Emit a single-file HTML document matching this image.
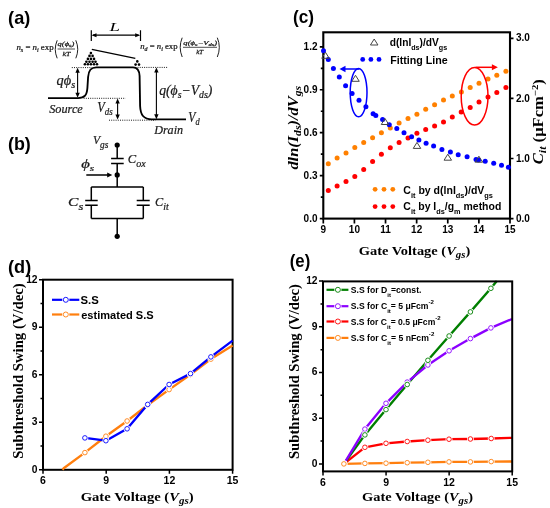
<!DOCTYPE html>
<html><head><meta charset="utf-8"><style>
html,body{margin:0;padding:0;background:#fff;width:550px;height:508px;overflow:hidden}
svg{display:block;will-change:transform}
</style></head><body>
<svg width="550" height="508" viewBox="0 0 550 508">
<rect width="550" height="508" fill="#fff"/>
<g id="t_la" transform="translate(8.09,24) scale(1.008,1)"><text x="0" y="0" font-family='"Liberation Sans", sans-serif' font-size="18" font-weight="bold" font-style="normal" fill="#000">(a)</text></g>
<g id="t_lb" transform="translate(8.007,150) scale(0.993,1)"><text x="0" y="0" font-family='"Liberation Sans", sans-serif' font-size="18" font-weight="bold" font-style="normal" fill="#000">(b)</text></g>
<g id="t_lc" transform="translate(292.894,23.2) scale(0.958,1)"><text x="0" y="0" font-family='"Liberation Sans", sans-serif' font-size="18" font-weight="bold" font-style="normal" fill="#000">(c)</text></g>
<g id="t_ld" transform="translate(8.086,272.6) scale(1.007,1)"><text x="0" y="0" font-family='"Liberation Sans", sans-serif' font-size="18" font-weight="bold" font-style="normal" fill="#000">(d)</text></g>
<g id="t_le" transform="translate(289.738,267.2) scale(0.931,1)"><text x="0" y="0" font-family='"Liberation Sans", sans-serif' font-size="18" font-weight="bold" font-style="normal" fill="#000">(e)</text></g>
<path d="M323.3,218.6V223.6 M354.417,218.6V223.6 M385.533,218.6V223.6 M416.65,218.6V223.6 M447.767,218.6V223.6 M478.883,218.6V223.6 M510,218.6V223.6 M323.3,218.6H319.8 M323.3,197.125H320.8 M323.3,175.65H319.8 M323.3,154.175H320.8 M323.3,132.7H319.8 M323.3,111.225H320.8 M323.3,89.75H319.8 M323.3,68.275H320.8 M323.3,46.8H319.8 M510,218.6H513.5 M510,158.5H513.5 M510,98.4H513.5 M510,38.3H513.5" stroke="#000" stroke-width="1.7" fill="none"/>
<rect x="323.3" y="32.3" width="186.7" height="186.3" fill="none" stroke="#000" stroke-width="2.1"/>
<text x="323.3" y="233.1" font-family='"Liberation Sans", sans-serif' font-size="10" font-weight="bold" font-style="normal" fill="#000" text-anchor="middle">9</text>
<text x="354.417" y="233.1" font-family='"Liberation Sans", sans-serif' font-size="10" font-weight="bold" font-style="normal" fill="#000" text-anchor="middle">10</text>
<text x="385.533" y="233.1" font-family='"Liberation Sans", sans-serif' font-size="10" font-weight="bold" font-style="normal" fill="#000" text-anchor="middle">11</text>
<text x="416.65" y="233.1" font-family='"Liberation Sans", sans-serif' font-size="10" font-weight="bold" font-style="normal" fill="#000" text-anchor="middle">12</text>
<text x="447.767" y="233.1" font-family='"Liberation Sans", sans-serif' font-size="10" font-weight="bold" font-style="normal" fill="#000" text-anchor="middle">13</text>
<text x="478.883" y="233.1" font-family='"Liberation Sans", sans-serif' font-size="10" font-weight="bold" font-style="normal" fill="#000" text-anchor="middle">14</text>
<text x="510" y="233.1" font-family='"Liberation Sans", sans-serif' font-size="10" font-weight="bold" font-style="normal" fill="#000" text-anchor="middle">15</text>
<text x="317.5" y="222.2" font-family='"Liberation Sans", sans-serif' font-size="10" font-weight="bold" font-style="normal" fill="#000" text-anchor="end">0.0</text>
<text x="317.5" y="179.25" font-family='"Liberation Sans", sans-serif' font-size="10" font-weight="bold" font-style="normal" fill="#000" text-anchor="end">0.3</text>
<text x="317.5" y="136.3" font-family='"Liberation Sans", sans-serif' font-size="10" font-weight="bold" font-style="normal" fill="#000" text-anchor="end">0.6</text>
<text x="317.5" y="93.35" font-family='"Liberation Sans", sans-serif' font-size="10" font-weight="bold" font-style="normal" fill="#000" text-anchor="end">0.9</text>
<text x="317.5" y="50.4" font-family='"Liberation Sans", sans-serif' font-size="10" font-weight="bold" font-style="normal" fill="#000" text-anchor="end">1.2</text>
<text x="516" y="221.7" font-family='"Liberation Sans", sans-serif' font-size="10" font-weight="bold" font-style="normal" fill="#000" text-anchor="start">0.0</text>
<text x="516" y="161.6" font-family='"Liberation Sans", sans-serif' font-size="10" font-weight="bold" font-style="normal" fill="#000" text-anchor="start">1.0</text>
<text x="516" y="101.5" font-family='"Liberation Sans", sans-serif' font-size="10" font-weight="bold" font-style="normal" fill="#000" text-anchor="start">2.0</text>
<text x="516" y="41.4" font-family='"Liberation Sans", sans-serif' font-size="10" font-weight="bold" font-style="normal" fill="#000" text-anchor="start">3.0</text>
<g id="t_cgv" transform="translate(358.7,255.2) scale(1.088,1)"><text x="0" y="0" font-family='"Liberation Serif", serif' font-size="13.3" font-weight="bold" font-style="normal" fill="#000">Gate Voltage (<tspan font-style="italic">V</tspan><tspan font-style="italic" font-size="10" dy="3">gs</tspan><tspan dy="-3">)</tspan></text></g>
<g id="t_cyl" transform="translate(298.3,169.5) rotate(-90) translate(-0.116,0) scale(1.172,1)"><text x="0" y="0" font-family='"Liberation Serif", serif' font-size="14" font-weight="bold" font-style="italic" fill="#000">dln(I<tspan font-size="10" dy="3">ds</tspan><tspan dy="-3">)/dV</tspan><tspan font-size="10" dy="3">gs</tspan></text></g>
<g id="t_cyr" transform="translate(543.4,164) rotate(-90) translate(-0.198,0) scale(1.186,1)"><text x="0" y="0" font-family='"Liberation Serif", serif' font-size="14" font-weight="bold" font-style="normal" fill="#000"><tspan font-style="italic">C</tspan><tspan font-style="italic" font-size="10" dy="3">it</tspan><tspan dy="-3"> (μFcm</tspan><tspan font-size="9" dy="-5">−2</tspan><tspan dy="5">)</tspan></text></g>
<g fill="#FF8000"><circle cx="328.3" cy="163.8" r="2.5"/><circle cx="337.1" cy="158" r="2.5"/><circle cx="346" cy="152.9" r="2.5"/><circle cx="354.8" cy="147.6" r="2.5"/><circle cx="363.7" cy="142.6" r="2.5"/><circle cx="372.6" cy="137.7" r="2.5"/><circle cx="381.4" cy="132.8" r="2.5"/><circle cx="390.3" cy="127.9" r="2.5"/><circle cx="399.1" cy="123" r="2.5"/><circle cx="408" cy="118.5" r="2.5"/><circle cx="416.9" cy="114.3" r="2.5"/><circle cx="425.7" cy="109.3" r="2.5"/><circle cx="434.6" cy="104.8" r="2.5"/><circle cx="443.5" cy="99.9" r="2.5"/><circle cx="452.3" cy="96" r="2.5"/><circle cx="461.4" cy="92" r="2.5"/><circle cx="470.2" cy="87.6" r="2.5"/><circle cx="479" cy="83.2" r="2.5"/><circle cx="488" cy="79.1" r="2.5"/><circle cx="496.8" cy="75.3" r="2.5"/><circle cx="505.9" cy="71.3" r="2.5"/></g>
<g fill="#FF0000"><circle cx="328.3" cy="190.6" r="2.5"/><circle cx="337.1" cy="186" r="2.5"/><circle cx="346" cy="181.4" r="2.5"/><circle cx="354.8" cy="176.6" r="2.5"/><circle cx="363.7" cy="169.5" r="2.5"/><circle cx="372.6" cy="161.6" r="2.5"/><circle cx="381.4" cy="154.2" r="2.5"/><circle cx="390.3" cy="147.8" r="2.5"/><circle cx="399.1" cy="142.6" r="2.5"/><circle cx="408" cy="137.9" r="2.5"/><circle cx="416.9" cy="133.2" r="2.5"/><circle cx="425.7" cy="129.4" r="2.5"/><circle cx="434.6" cy="125.9" r="2.5"/><circle cx="443.5" cy="121.9" r="2.5"/><circle cx="452.3" cy="117" r="2.5"/><circle cx="461.2" cy="111.9" r="2.5"/><circle cx="470.2" cy="107.5" r="2.5"/><circle cx="479" cy="102" r="2.5"/><circle cx="488" cy="96.9" r="2.5"/><circle cx="496.8" cy="92.5" r="2.5"/><circle cx="505.9" cy="87.6" r="2.5"/></g>
<g fill="#0000FF"><circle cx="323.5" cy="50.7" r="2.5"/><circle cx="328.3" cy="59.5" r="2.5"/><circle cx="333.4" cy="68.4" r="2.5"/><circle cx="339.3" cy="76.9" r="2.5"/><circle cx="345.6" cy="85.7" r="2.5"/><circle cx="352.1" cy="93.4" r="2.5"/><circle cx="359" cy="100.3" r="2.5"/><circle cx="365.9" cy="106.8" r="2.5"/><circle cx="373.1" cy="113.7" r="2.5"/><circle cx="375.8" cy="115.6" r="2.5"/><circle cx="382.6" cy="119.6" r="2.5"/><circle cx="389.3" cy="124.7" r="2.5"/><circle cx="396.8" cy="128.6" r="2.5"/><circle cx="404" cy="132.8" r="2.5"/><circle cx="411.6" cy="136.7" r="2.5"/><circle cx="418.9" cy="140.1" r="2.5"/><circle cx="426.1" cy="143.2" r="2.5"/><circle cx="433.6" cy="146" r="2.5"/><circle cx="441.9" cy="149.5" r="2.5"/><circle cx="450.4" cy="151.9" r="2.5"/><circle cx="458.2" cy="154.8" r="2.5"/><circle cx="467.1" cy="156.8" r="2.5"/><circle cx="476" cy="159.4" r="2.5"/><circle cx="478.5" cy="159.9" r="2.5"/><circle cx="485.2" cy="161.3" r="2.5"/><circle cx="493.7" cy="163.3" r="2.5"/><circle cx="501.5" cy="165.3" r="2.5"/><circle cx="508.4" cy="167.2" r="2.5"/></g>
<path d="M325.5,52.3L329.25,58.3L321.75,58.3ZM355.5,75.3L359.25,81.3L351.75,81.3ZM385,118.5L388.75,124.5L381.25,124.5ZM417,142.4L420.75,148.4L413.25,148.4ZM447.8,154.2L451.55,160.2L444.05,160.2ZM478.9,156.2L482.65,162.2L475.15,162.2ZM374.2,39L377.95,45L370.45,45Z" fill="none" stroke="#444" stroke-width="1"/>
<ellipse cx="358.6" cy="92.6" rx="8.4" ry="24.2" fill="none" stroke="#0000FF" stroke-width="1.5"/>
<path d="M359.3,69H344" stroke="#0000FF" stroke-width="1.5"/><path d="M339.5,69L345.5,65.8L345.5,72.2Z" fill="#0000FF"/>
<ellipse cx="474.6" cy="96.3" rx="13.4" ry="28.8" fill="none" stroke="#FF0000" stroke-width="1.5"/>
<path d="M475.5,67.3H493" stroke="#FF0000" stroke-width="1.5"/><path d="M497.9,67.3L491.9,64.3L491.9,70.3Z" fill="#FF0000"/>
<g fill="#0000FF"><circle cx="362.7" cy="59.4" r="2.4"/><circle cx="370.9" cy="59.4" r="2.4"/><circle cx="379" cy="59.4" r="2.4"/></g>
<g fill="#FF8000"><circle cx="375.1" cy="189.3" r="2.4"/><circle cx="384" cy="189.3" r="2.4"/><circle cx="392.8" cy="189.3" r="2.4"/></g>
<g fill="#FF0000"><circle cx="375.1" cy="206.6" r="2.4"/><circle cx="384" cy="206.6" r="2.4"/><circle cx="392.8" cy="206.6" r="2.4"/></g>
<g id="t_cl1" transform="translate(389.736,45.8) scale(1.02,1)"><text x="0" y="0" font-family='"Liberation Sans", sans-serif' font-size="10" font-weight="bold" font-style="normal" fill="#000">d(lnI<tspan font-size="7" dy="4">ds</tspan><tspan dy="-4">)/dV</tspan><tspan font-size="7" dy="4">gs</tspan></text></g>
<g id="t_cl2" transform="translate(390.133,63.6) scale(1.069,1)"><text x="0" y="0" font-family='"Liberation Sans", sans-serif' font-size="10" font-weight="bold" font-style="normal" fill="#000">Fitting Line</text></g>
<g id="t_cl3" transform="translate(403.35,193.6) scale(1.054,1)"><text x="0" y="0" font-family='"Liberation Sans", sans-serif' font-size="10" font-weight="bold" font-style="normal" fill="#000">C<tspan font-size="7" dy="4">it</tspan><tspan dy="-4"> by d(lnI</tspan><tspan font-size="7" dy="4">ds</tspan><tspan dy="-4">)/dV</tspan><tspan font-size="7" dy="4">gs</tspan></text></g>
<g id="t_cl4" transform="translate(403.345,210.3) scale(1.046,1)"><text x="0" y="0" font-family='"Liberation Sans", sans-serif' font-size="10" font-weight="bold" font-style="normal" fill="#000">C<tspan font-size="7" dy="4">it</tspan><tspan dy="-4"> by I</tspan><tspan font-size="7" dy="4">ds</tspan><tspan dy="-4">/g</tspan><tspan font-size="7" dy="4">m</tspan><tspan dy="-4"> method</tspan></text></g>
<path d="M43,469.8V473.8 M106.2,469.8V473.8 M169.4,469.8V473.8 M232.6,469.8V473.8 M43,469.8H39 M43,446.038H40.5 M43,422.275H39 M43,398.512H40.5 M43,374.75H39 M43,350.988H40.5 M43,327.225H39 M43,303.462H40.5 M43,279.7H39" stroke="#000" stroke-width="1.5" fill="none"/>
<rect x="43" y="279.7" width="189.6" height="190.1" fill="none" stroke="#000" stroke-width="2"/>
<text x="43" y="483.9" font-family='"Liberation Sans", sans-serif' font-size="10.5" font-weight="bold" font-style="normal" fill="#000" text-anchor="middle">6</text>
<text x="106.2" y="483.9" font-family='"Liberation Sans", sans-serif' font-size="10.5" font-weight="bold" font-style="normal" fill="#000" text-anchor="middle">9</text>
<text x="169.4" y="483.9" font-family='"Liberation Sans", sans-serif' font-size="10.5" font-weight="bold" font-style="normal" fill="#000" text-anchor="middle">12</text>
<text x="232.6" y="483.9" font-family='"Liberation Sans", sans-serif' font-size="10.5" font-weight="bold" font-style="normal" fill="#000" text-anchor="middle">15</text>
<text x="37.6" y="472.6" font-family='"Liberation Sans", sans-serif' font-size="10.3" font-weight="bold" font-style="normal" fill="#000" text-anchor="end">0</text>
<text x="37.6" y="425.075" font-family='"Liberation Sans", sans-serif' font-size="10.3" font-weight="bold" font-style="normal" fill="#000" text-anchor="end">3</text>
<text x="37.6" y="377.55" font-family='"Liberation Sans", sans-serif' font-size="10.3" font-weight="bold" font-style="normal" fill="#000" text-anchor="end">6</text>
<text x="37.6" y="330.025" font-family='"Liberation Sans", sans-serif' font-size="10.3" font-weight="bold" font-style="normal" fill="#000" text-anchor="end">9</text>
<text x="37.6" y="282.5" font-family='"Liberation Sans", sans-serif' font-size="10.3" font-weight="bold" font-style="normal" fill="#000" text-anchor="end">12</text>
<g id="t_dgv" transform="translate(80.688,501) scale(1.101,1)"><text x="0" y="0" font-family='"Liberation Serif", serif' font-size="13.3" font-weight="bold" font-style="normal" fill="#000">Gate Voltage (<tspan font-style="italic">V</tspan><tspan font-style="italic" font-size="10" dy="3">gs</tspan><tspan dy="-3">)</tspan></text></g>
<g id="t_dyt" transform="translate(23,458.4) rotate(-90) translate(-0.442,0) scale(1.051,1)"><text x="0" y="0" font-family='"Liberation Serif", serif' font-size="14" font-weight="bold" font-style="normal" fill="#000">Subthreshold Swing (V/dec)</text></g>
<path d="M62.5,469.8 L63.7,468.3 L84.9,452.6 L105.9,436.2 L127.1,421 L147.7,405 L169.1,389.6 L190.5,374.5 L210.9,359.1 L232.6,345.5" fill="none" stroke="#FF7F0E" stroke-width="2.35" stroke-linejoin="round"/>
<path d="M84.9,437.9 L105.9,440.7 L127.1,428.8 L147.7,404.4 L169.1,384.5 L190.5,373.6 L210.9,356.9 L232.6,340.6" fill="none" stroke="#0000FF" stroke-width="2.35" stroke-linejoin="round"/>
<g fill="#fff"><circle cx="84.9" cy="452.6" r="3.4"/><circle cx="105.9" cy="436.2" r="3.4"/><circle cx="127.1" cy="421" r="3.4"/><circle cx="147.7" cy="405" r="3.4"/><circle cx="169.1" cy="389.6" r="3.4"/><circle cx="190.5" cy="374.5" r="3.4"/><circle cx="210.9" cy="359.1" r="3.4"/></g>
<g fill="#fff" stroke="#FF7F0E" stroke-width="0.9"><circle cx="84.9" cy="452.6" r="2.3"/><circle cx="105.9" cy="436.2" r="2.3"/><circle cx="127.1" cy="421" r="2.3"/><circle cx="147.7" cy="405" r="2.3"/><circle cx="169.1" cy="389.6" r="2.3"/><circle cx="190.5" cy="374.5" r="2.3"/><circle cx="210.9" cy="359.1" r="2.3"/></g>
<g fill="#fff"><circle cx="84.9" cy="437.9" r="3.4"/><circle cx="105.9" cy="440.7" r="3.4"/><circle cx="127.1" cy="428.8" r="3.4"/><circle cx="147.7" cy="404.4" r="3.4"/><circle cx="169.1" cy="384.5" r="3.4"/><circle cx="190.5" cy="373.6" r="3.4"/><circle cx="210.9" cy="356.9" r="3.4"/></g>
<g fill="#fff" stroke="#0000FF" stroke-width="0.9"><circle cx="84.9" cy="437.9" r="2.3"/><circle cx="105.9" cy="440.7" r="2.3"/><circle cx="127.1" cy="428.8" r="2.3"/><circle cx="147.7" cy="404.4" r="2.3"/><circle cx="169.1" cy="384.5" r="2.3"/><circle cx="190.5" cy="373.6" r="2.3"/><circle cx="210.9" cy="356.9" r="2.3"/></g>
<path d="M52,299.8H79.3" stroke="#0000FF" stroke-width="2.2"/>
<g fill="#fff"><circle cx="65.8" cy="299.8" r="3.6"/></g>
<g fill="#fff" stroke="#0000FF" stroke-width="0.9"><circle cx="65.8" cy="299.8" r="2.5"/></g>
<path d="M52,314.5H79.3" stroke="#FF7F0E" stroke-width="2.2"/>
<g fill="#fff"><circle cx="65.8" cy="314.5" r="3.6"/></g>
<g fill="#fff" stroke="#FF7F0E" stroke-width="0.9"><circle cx="65.8" cy="314.5" r="2.5"/></g>
<g id="t_dl1" transform="translate(80.542,303.8) scale(1.1,1)"><text x="0" y="0" font-family='"Liberation Sans", sans-serif' font-size="10.3" font-weight="bold" font-style="normal" fill="#000">S.S</text></g>
<g id="t_dl2" transform="translate(81.222,318.7) scale(1.074,1)"><text x="0" y="0" font-family='"Liberation Sans", sans-serif' font-size="10.3" font-weight="bold" font-style="normal" fill="#000">estimated S.S</text></g>
<path d="M323,471.4V475.4 M386.067,471.4V475.4 M449.133,471.4V475.4 M512.2,471.4V475.4 M323,463.9H319 M323,441.05H320.5 M323,418.2H319 M323,395.35H320.5 M323,372.5H319 M323,349.65H320.5 M323,326.8H319 M323,303.95H320.5 M323,281.1H319" stroke="#000" stroke-width="1.5" fill="none"/>
<text x="323" y="485.6" font-family='"Liberation Sans", sans-serif' font-size="10.5" font-weight="bold" font-style="normal" fill="#000" text-anchor="middle">6</text>
<text x="386.067" y="485.6" font-family='"Liberation Sans", sans-serif' font-size="10.5" font-weight="bold" font-style="normal" fill="#000" text-anchor="middle">9</text>
<text x="449.133" y="485.6" font-family='"Liberation Sans", sans-serif' font-size="10.5" font-weight="bold" font-style="normal" fill="#000" text-anchor="middle">12</text>
<text x="512.2" y="485.6" font-family='"Liberation Sans", sans-serif' font-size="10.5" font-weight="bold" font-style="normal" fill="#000" text-anchor="middle">15</text>
<text x="317.6" y="466.8" font-family='"Liberation Sans", sans-serif' font-size="10.3" font-weight="bold" font-style="normal" fill="#000" text-anchor="end">0</text>
<text x="317.6" y="421.1" font-family='"Liberation Sans", sans-serif' font-size="10.3" font-weight="bold" font-style="normal" fill="#000" text-anchor="end">3</text>
<text x="317.6" y="375.4" font-family='"Liberation Sans", sans-serif' font-size="10.3" font-weight="bold" font-style="normal" fill="#000" text-anchor="end">6</text>
<text x="317.6" y="329.7" font-family='"Liberation Sans", sans-serif' font-size="10.3" font-weight="bold" font-style="normal" fill="#000" text-anchor="end">9</text>
<text x="317.6" y="284" font-family='"Liberation Sans", sans-serif' font-size="10.3" font-weight="bold" font-style="normal" fill="#000" text-anchor="end">12</text>
<g id="t_egv" transform="translate(362.104,501.3) scale(1.079,1)"><text x="0" y="0" font-family='"Liberation Serif", serif' font-size="13.3" font-weight="bold" font-style="normal" fill="#000">Gate Voltage (<tspan font-style="italic">V</tspan><tspan font-style="italic" font-size="10" dy="3">gs</tspan><tspan dy="-3">)</tspan></text></g>
<g id="t_eyt" transform="translate(299.3,458) rotate(-90) translate(-1.049,0) scale(1.049,1)"><text x="0" y="0" font-family='"Liberation Serif", serif' font-size="14" font-weight="bold" font-style="normal" fill="#000">Subthreshold Swing (V/dec)</text></g>
<path d="M343.9,463.9 L364.9,463.4 L386,463.2 L407.2,462.7 L427.9,462.3 L449,461.9 L470.4,461.9 L491.2,461.6 L512,461.5" fill="none" stroke="#FF7F0E" stroke-width="2.35" stroke-linejoin="round"/>
<path d="M343.9,463.8 L364.9,447.3 L386,443.3 L407.2,441.5 L427.9,440.2 L449,439.2 L470.4,439 L491.2,438.5 L512,437.8" fill="none" stroke="#FF0000" stroke-width="2.35" stroke-linejoin="round"/>
<path d="M343.9,463.8 L364.9,434.9 L386,409.6 L407.2,384.5 L427.9,360.3 L449.1,336 L470.4,311.9 L490.9,288.3 L496.8,281.1" fill="none" stroke="#007F00" stroke-width="2.35" stroke-linejoin="round"/>
<path d="M343.9,463.8 L364.9,429.1 L386,403.3 L407.2,382.1 L427.9,365 L449.1,350.8 L470.4,338.6 L490.9,327.9 L512,319" fill="none" stroke="#8B00FF" stroke-width="2.35" stroke-linejoin="round"/>
<g fill="#fff"><circle cx="343.9" cy="463.8" r="3.4"/><circle cx="364.9" cy="429.1" r="3.4"/><circle cx="386" cy="403.3" r="3.4"/><circle cx="407.2" cy="382.1" r="3.4"/><circle cx="427.9" cy="365" r="3.4"/><circle cx="449.1" cy="350.8" r="3.4"/><circle cx="470.4" cy="338.6" r="3.4"/><circle cx="490.9" cy="327.9" r="3.4"/></g>
<g fill="#fff" stroke="#8B00FF" stroke-width="0.9"><circle cx="343.9" cy="463.8" r="2.3"/><circle cx="364.9" cy="429.1" r="2.3"/><circle cx="386" cy="403.3" r="2.3"/><circle cx="407.2" cy="382.1" r="2.3"/><circle cx="427.9" cy="365" r="2.3"/><circle cx="449.1" cy="350.8" r="2.3"/><circle cx="470.4" cy="338.6" r="2.3"/><circle cx="490.9" cy="327.9" r="2.3"/></g>
<g fill="#fff"><circle cx="343.9" cy="463.8" r="3.4"/><circle cx="364.9" cy="434.9" r="3.4"/><circle cx="386" cy="409.6" r="3.4"/><circle cx="407.2" cy="384.5" r="3.4"/><circle cx="427.9" cy="360.3" r="3.4"/><circle cx="449.1" cy="336" r="3.4"/><circle cx="470.4" cy="311.9" r="3.4"/><circle cx="490.9" cy="288.3" r="3.4"/></g>
<g fill="#fff" stroke="#007F00" stroke-width="0.9"><circle cx="343.9" cy="463.8" r="2.3"/><circle cx="364.9" cy="434.9" r="2.3"/><circle cx="386" cy="409.6" r="2.3"/><circle cx="407.2" cy="384.5" r="2.3"/><circle cx="427.9" cy="360.3" r="2.3"/><circle cx="449.1" cy="336" r="2.3"/><circle cx="470.4" cy="311.9" r="2.3"/><circle cx="490.9" cy="288.3" r="2.3"/></g>
<g fill="#fff"><circle cx="343.9" cy="463.8" r="3.4"/><circle cx="364.9" cy="447.3" r="3.4"/><circle cx="386" cy="443.3" r="3.4"/><circle cx="407.2" cy="441.5" r="3.4"/><circle cx="427.9" cy="440.2" r="3.4"/><circle cx="449" cy="439.2" r="3.4"/><circle cx="470.4" cy="439" r="3.4"/><circle cx="491.2" cy="438.5" r="3.4"/></g>
<g fill="#fff" stroke="#FF0000" stroke-width="0.9"><circle cx="343.9" cy="463.8" r="2.3"/><circle cx="364.9" cy="447.3" r="2.3"/><circle cx="386" cy="443.3" r="2.3"/><circle cx="407.2" cy="441.5" r="2.3"/><circle cx="427.9" cy="440.2" r="2.3"/><circle cx="449" cy="439.2" r="2.3"/><circle cx="470.4" cy="439" r="2.3"/><circle cx="491.2" cy="438.5" r="2.3"/></g>
<g fill="#fff"><circle cx="343.9" cy="463.9" r="3.4"/><circle cx="364.9" cy="463.4" r="3.4"/><circle cx="386" cy="463.2" r="3.4"/><circle cx="407.2" cy="462.7" r="3.4"/><circle cx="427.9" cy="462.3" r="3.4"/><circle cx="449" cy="461.9" r="3.4"/><circle cx="470.4" cy="461.9" r="3.4"/><circle cx="491.2" cy="461.6" r="3.4"/></g>
<g fill="#fff" stroke="#FF7F0E" stroke-width="0.9"><circle cx="343.9" cy="463.9" r="2.3"/><circle cx="364.9" cy="463.4" r="2.3"/><circle cx="386" cy="463.2" r="2.3"/><circle cx="407.2" cy="462.7" r="2.3"/><circle cx="427.9" cy="462.3" r="2.3"/><circle cx="449" cy="461.9" r="2.3"/><circle cx="470.4" cy="461.9" r="2.3"/><circle cx="491.2" cy="461.6" r="2.3"/></g>
<rect x="323" y="281.4" width="189.2" height="190" fill="none" stroke="#000" stroke-width="2"/>
<path d="M326.5,289.8H348.4" stroke="#007F00" stroke-width="2.2"/>
<g fill="#fff"><circle cx="337.9" cy="289.8" r="3.6"/></g>
<g fill="#fff" stroke="#007F00" stroke-width="0.9"><circle cx="337.9" cy="289.8" r="2.5"/></g>
<path d="M326.5,306.2H348.4" stroke="#8B00FF" stroke-width="2.2"/>
<g fill="#fff"><circle cx="337.9" cy="306.2" r="3.6"/></g>
<g fill="#fff" stroke="#8B00FF" stroke-width="0.9"><circle cx="337.9" cy="306.2" r="2.5"/></g>
<path d="M326.5,321.5H348.4" stroke="#FF0000" stroke-width="2.2"/>
<g fill="#fff"><circle cx="337.9" cy="321.5" r="3.6"/></g>
<g fill="#fff" stroke="#FF0000" stroke-width="0.9"><circle cx="337.9" cy="321.5" r="2.5"/></g>
<path d="M326.5,337.9H348.4" stroke="#FF7F0E" stroke-width="2.2"/>
<g fill="#fff"><circle cx="337.9" cy="337.9" r="3.6"/></g>
<g fill="#fff" stroke="#FF7F0E" stroke-width="0.9"><circle cx="337.9" cy="337.9" r="2.5"/></g>
<g id="t_el1" transform="translate(350.747,292.9) scale(1.017,1)"><text x="0" y="0" font-family='"Liberation Sans", sans-serif' font-size="8.5" font-weight="bold" font-style="normal" fill="#000">S.S for D<tspan font-size="6" dy="3.6">it</tspan><tspan dy="-3.6">=const.</tspan></text></g>
<g id="t_el2" transform="translate(350.76,309.2) scale(1.016,1)"><text x="0" y="0" font-family='"Liberation Sans", sans-serif' font-size="8.5" font-weight="bold" font-style="normal" fill="#000">S.S for C<tspan font-size="6" dy="3.6">it</tspan><tspan dy="-3.6">= 5 μFcm</tspan><tspan font-size="6" dy="-5">-2</tspan></text></g>
<g id="t_el3" transform="translate(350.772,325.1) scale(1.01,1)"><text x="0" y="0" font-family='"Liberation Sans", sans-serif' font-size="8.5" font-weight="bold" font-style="normal" fill="#000">S.S for C<tspan font-size="6" dy="3.6">it</tspan><tspan dy="-3.6">= 0.5 μFcm</tspan><tspan font-size="6" dy="-5">-2</tspan></text></g>
<g id="t_el4" transform="translate(350.75,341.3) scale(1.019,1)"><text x="0" y="0" font-family='"Liberation Sans", sans-serif' font-size="8.5" font-weight="bold" font-style="normal" fill="#000">S.S for C<tspan font-size="6" dy="3.6">it</tspan><tspan dy="-3.6">= 5 nFcm</tspan><tspan font-size="6" dy="-5">-2</tspan></text></g>
<path d="M91.3,30.3V41M140.5,30.3V41M93,35.2H138.5" stroke="#000" stroke-width="1.2" fill="none"/>
<path d="M91.5,35.2L96.5,33.2L96.5,37.2Z M140.2,35.2L135.2,33.2L135.2,37.2Z" fill="#000"/>
<g id="t_L" transform="translate(109.549,31.2) scale(1.451,1)"><text x="0" y="0" font-family='"Liberation Serif", serif' font-size="13" font-weight="normal" font-style="italic" fill="#000">L</text></g>
<path d="M91.8,49.3L135.3,58.3" stroke="#000" stroke-width="1.2"/>
<g fill="#000"><circle cx="90.9" cy="53.1" r="1.3"/><circle cx="89.5" cy="55.9" r="1.3"/><circle cx="92.6" cy="55.9" r="1.3"/><circle cx="87.9" cy="58.9" r="1.3"/><circle cx="90.9" cy="58.9" r="1.3"/><circle cx="94" cy="58.9" r="1.3"/><circle cx="86.4" cy="61.8" r="1.3"/><circle cx="89.5" cy="61.8" r="1.3"/><circle cx="92.6" cy="61.8" r="1.3"/><circle cx="95.5" cy="61.8" r="1.3"/><circle cx="84.9" cy="64.3" r="1.3"/><circle cx="87.9" cy="64.3" r="1.3"/><circle cx="90.9" cy="64.3" r="1.3"/><circle cx="94" cy="64.3" r="1.3"/><circle cx="97" cy="64.3" r="1.3"/><circle cx="137.3" cy="61.4" r="1.3"/><circle cx="135.6" cy="64.6" r="1.3"/><circle cx="139" cy="64.6" r="1.3"/></g>
<path d="M71.8,67.6H92 M137.5,67.4H167.5 M83.6,98.3H125.5 M109,120.2H155.5" stroke="#000" stroke-width="0.9" stroke-dasharray="1 1.2" fill="none"/>
<path d="M48,98.1 L78,98.1 C84.8,98.1 86.9,95 87.4,88 L88.1,77 C88.6,70 90.8,67.4 96.3,67.4 L133,67.4 C137.5,67.4 139.3,70 139.6,76 L140.1,106 C140.5,115 143.5,119.3 152,119.3 L186,119.3" fill="none" stroke="#000" stroke-width="1.85"/>
<path d="M77.6,71.7V93.8" stroke="#000" stroke-width="1.1"/>
<path d="M77.6,67.7L75.39999999999999,72.7L79.8,72.7Z M77.6,97.8L75.39999999999999,92.8L79.8,92.8Z" fill="#000"/>
<path d="M117.6,102.6V115.6" stroke="#000" stroke-width="1.1"/>
<path d="M117.6,98.6L115.39999999999999,103.6L119.8,103.6Z M117.6,119.6L115.39999999999999,114.6L119.8,114.6Z" fill="#000"/>
<path d="M156.4,71.4V115.2" stroke="#000" stroke-width="1.1"/>
<path d="M156.4,67.4L154.20000000000002,72.4L158.6,72.4Z M156.4,119.2L154.20000000000002,114.2L158.6,114.2Z" fill="#000"/>
<g id="t_qps" transform="translate(56.618,85.2) scale(1.026,1)"><text x="0" y="0" font-family='"Liberation Serif", serif' font-size="14" font-weight="normal" font-style="italic" fill="#1a1a1a" stroke="#1a1a1a" stroke-width="0.22">qϕ<tspan font-size="10" dy="3">s</tspan></text></g>
<g id="t_vds" transform="translate(97.284,111.8) scale(0.883,1)"><text x="0" y="0" font-family='"Liberation Serif", serif' font-size="14" font-weight="normal" font-style="italic" fill="#1a1a1a" stroke="#1a1a1a" stroke-width="0.22">V<tspan font-size="10" dy="3">ds</tspan></text></g>
<g id="t_src" transform="translate(49.145,113.2) scale(0.946,1)"><text x="0" y="0" font-family='"Liberation Serif", serif' font-size="13" font-weight="normal" font-style="italic" fill="#1a1a1a" stroke="#1a1a1a" stroke-width="0.22">Source</text></g>
<g id="t_qpv" transform="translate(159.177,95) scale(0.978,1)"><text x="0" y="0" font-family='"Liberation Serif", serif' font-size="14" font-weight="normal" font-style="italic" fill="#1a1a1a" stroke="#1a1a1a" stroke-width="0.22">q(ϕ<tspan font-size="10" dy="3">s</tspan><tspan dy="-3">−V</tspan><tspan font-size="10" dy="3">ds</tspan><tspan dy="-3">)</tspan></text></g>
<g id="t_vd" transform="translate(188.244,122.3) scale(0.84,1)"><text x="0" y="0" font-family='"Liberation Serif", serif' font-size="14" font-weight="normal" font-style="italic" fill="#1a1a1a" stroke="#1a1a1a" stroke-width="0.22">V<tspan font-size="10" dy="3">d</tspan></text></g>
<g id="t_drn" transform="translate(154.154,133.8) scale(0.933,1)"><text x="0" y="0" font-family='"Liberation Serif", serif' font-size="13" font-weight="normal" font-style="italic" fill="#1a1a1a" stroke="#1a1a1a" stroke-width="0.22">Drain</text></g>
<g id="t_fl1" transform="translate(16.43,50.3) scale(1.104,1)"><text x="0" y="0" font-family='"Liberation Serif", serif' font-size="8" font-weight="normal" font-style="italic" fill="#222" stroke="#222" stroke-width="0.25">n<tspan font-size="5.5" dy="1.5">s</tspan><tspan dy="-1.5" font-style="normal"> = </tspan>n<tspan font-size="5.5" dy="1.5">i</tspan><tspan dy="-1.5" font-style="normal"> exp</tspan></text></g>
<g id="t_fl2" transform="translate(57.565,46.2) scale(1.423,1)"><text x="0" y="0" font-family='"Liberation Serif", serif' font-size="6" font-weight="normal" font-style="italic" fill="#222" stroke="#222" stroke-width="0.25">q(ϕ<tspan font-size="4.5" dy="1">s</tspan><tspan dy="-1">)</tspan></text></g>
<g id="t_fl3" transform="translate(62.434,55.7) scale(1.157,1)"><text x="0" y="0" font-family='"Liberation Serif", serif' font-size="6.8" font-weight="normal" font-style="italic" fill="#222" stroke="#222" stroke-width="0.25">kT</text></g>
<path d="M57.6,49H75" stroke="#222" stroke-width="0.8"/>
<path d="M57.2,40.3 Q53.3,49.3 57.2,58.3 M75.8,40.3 Q79.7,49.3 75.8,58.3" stroke="#222" stroke-width="1" fill="none"/>
<g id="t_fr1" transform="translate(140.2,49.2) scale(1.087,1)"><text x="0" y="0" font-family='"Liberation Serif", serif' font-size="8" font-weight="normal" font-style="italic" fill="#222" stroke="#222" stroke-width="0.25">n<tspan font-size="5.5" dy="1.5">d</tspan><tspan dy="-1.5" font-style="normal"> = </tspan>n<tspan font-size="5.5" dy="1.5">i</tspan><tspan dy="-1.5" font-style="normal"> exp</tspan></text></g>
<g id="t_fr2" transform="translate(183.341,45) scale(1.439,1)"><text x="0" y="0" font-family='"Liberation Serif", serif' font-size="6" font-weight="normal" font-style="italic" fill="#222" stroke="#222" stroke-width="0.25">q(ϕ<tspan font-size="4.5" dy="1">s</tspan><tspan dy="-1">−V</tspan><tspan font-size="4.5" dy="1">ds</tspan><tspan dy="-1">)</tspan></text></g>
<g id="t_fr3" transform="translate(196.299,53.5) scale(1.016,1)"><text x="0" y="0" font-family='"Liberation Serif", serif' font-size="6.8" font-weight="normal" font-style="italic" fill="#222" stroke="#222" stroke-width="0.25">kT</text></g>
<path d="M183,47.3H217" stroke="#222" stroke-width="0.8"/>
<path d="M182.2,37.7 Q178.2,47.3 182.2,57 M217.3,37.7 Q221.3,47.3 217.3,57" stroke="#222" stroke-width="1" fill="none"/>
<path d="M117.2,145V158.6 M117.2,163.4V186.9 M111.1,158.6H123.7 M111.1,163.4H123.7 M91.3,186.9H143.3 M91.3,186.9V200.5 M85.2,200.5H97.7 M85.2,205.2H97.7 M91.3,205.2V218.6 M143.3,186.9V200.5 M136.7,200.5H149.7 M136.7,205.2H149.7 M143.3,205.2V218.6 M91.3,218.6H143.3 M117.2,218.6V236.3 M86.3,175.1H108" stroke="#000" stroke-width="1.5" fill="none"/>
<g fill="#000"><circle cx="117.2" cy="145" r="2.6"/><circle cx="117.2" cy="174.9" r="2.6"/><circle cx="117.2" cy="236.3" r="2.6"/><path d="M112.3,175.1L107.2,172.6L107.2,177.6Z"/></g>
<g id="t_vgs" transform="translate(92.897,143.8) scale(0.932,1)"><text x="0" y="0" font-family='"Liberation Serif", serif' font-size="12.5" font-weight="normal" font-style="italic" fill="#1a1a1a" stroke="#1a1a1a" stroke-width="0.22">V<tspan font-size="10" dy="4">gs</tspan></text></g>
<g id="t_cox" transform="translate(127.799,162.7) scale(1.007,1)"><text x="0" y="0" font-family='"Liberation Serif", serif' font-size="12.5" font-weight="normal" font-style="italic" fill="#1a1a1a" stroke="#1a1a1a" stroke-width="0.22">C<tspan font-size="10" dy="4">ox</tspan></text></g>
<g id="t_phs" transform="translate(81.261,168.2) scale(1.326,1)"><text x="0" y="0" font-family='"Liberation Serif", serif' font-size="12.5" font-weight="normal" font-style="italic" fill="#1a1a1a" stroke="#1a1a1a" stroke-width="0.22">ϕ<tspan font-size="8.5" dy="3">s</tspan></text></g>
<g id="t_cs" transform="translate(68.042,206) scale(1.247,1)"><text x="0" y="0" font-family='"Liberation Serif", serif' font-size="12.5" font-weight="normal" font-style="italic" fill="#1a1a1a" stroke="#1a1a1a" stroke-width="0.22">C<tspan font-size="10" dy="4">s</tspan></text></g>
<g id="t_cit" transform="translate(155.051,206) scale(0.984,1)"><text x="0" y="0" font-family='"Liberation Serif", serif' font-size="12.5" font-weight="normal" font-style="italic" fill="#1a1a1a" stroke="#1a1a1a" stroke-width="0.22">C<tspan font-size="10" dy="4">it</tspan></text></g>
</svg>
</body></html>
